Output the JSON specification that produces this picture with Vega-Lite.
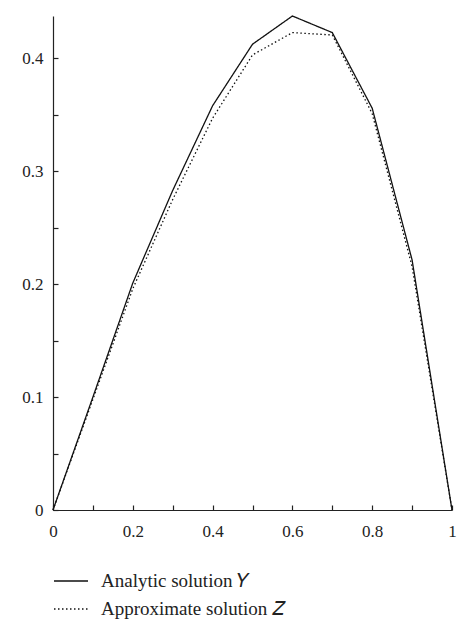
{
  "$schema": "https://vega.github.io/schema/vega-lite/v6.json",
  "autosize": {"type": "none"},
  "width": 399,
  "height": 494,
  "padding": {"left": 53, "top": 16, "right": 22, "bottom": 122},
  "background": "white",
  "config": {
    "view": {"stroke": null},
    "font": "Liberation Serif",
    "axis": {
      "domainColor": "#222",
      "tickColor": "#222",
      "domainWidth": 1.2,
      "tickWidth": 1.2,
      "labelColor": "#222",
      "labelFont": "Liberation Serif",
      "labelFontSize": 17,
      "grid": false,
      "title": null
    }
  },
  "data": {
    "values": [
      {"x": 0.0, "u": 0.0, "s": "Analytic solution 𝑌"},
      {"x": 0.1, "u": 0.1, "s": "Analytic solution 𝑌"},
      {"x": 0.2, "u": 0.201, "s": "Analytic solution 𝑌"},
      {"x": 0.3, "u": 0.283, "s": "Analytic solution 𝑌"},
      {"x": 0.4, "u": 0.358, "s": "Analytic solution 𝑌"},
      {"x": 0.5, "u": 0.4125, "s": "Analytic solution 𝑌"},
      {"x": 0.6, "u": 0.4375, "s": "Analytic solution 𝑌"},
      {"x": 0.7, "u": 0.4228, "s": "Analytic solution 𝑌"},
      {"x": 0.8, "u": 0.3558, "s": "Analytic solution 𝑌"},
      {"x": 0.9, "u": 0.2214, "s": "Analytic solution 𝑌"},
      {"x": 1.0, "u": 0.0, "s": "Analytic solution 𝑌"},
      {"x": 0.0, "u": 0.0, "s": "Approximate solution 𝑍"},
      {"x": 0.1, "u": 0.098, "s": "Approximate solution 𝑍"},
      {"x": 0.2, "u": 0.196, "s": "Approximate solution 𝑍"},
      {"x": 0.3, "u": 0.275, "s": "Approximate solution 𝑍"},
      {"x": 0.4, "u": 0.347, "s": "Approximate solution 𝑍"},
      {"x": 0.5, "u": 0.403, "s": "Approximate solution 𝑍"},
      {"x": 0.6, "u": 0.4228, "s": "Approximate solution 𝑍"},
      {"x": 0.7, "u": 0.4207, "s": "Approximate solution 𝑍"},
      {"x": 0.8, "u": 0.351, "s": "Approximate solution 𝑍"},
      {"x": 0.9, "u": 0.2155, "s": "Approximate solution 𝑍"},
      {"x": 1.0, "u": 0.0, "s": "Approximate solution 𝑍"}
    ]
  },
  "mark": {"type": "line", "color": "#111", "strokeWidth": 1.3},
  "encoding": {
    "x": {
      "field": "x",
      "type": "quantitative",
      "scale": {"domain": [0, 1], "nice": false},
      "axis": {
        "values": [0, 0.1, 0.2, 0.3, 0.4, 0.5, 0.6, 0.7, 0.8, 0.9, 1],
        "tickSize": -5,
        "labelPadding": 18,
        "labelExpr": "round(datum.value * 10) % 2 == 0 ? format(datum.value, '~g') : ''",
        "labelFlush": false,
        "labelOverlap": false
      }
    },
    "y": {
      "field": "u",
      "type": "quantitative",
      "scale": {"domain": [0, 0.4375], "nice": false, "zero": true},
      "axis": {
        "values": [0, 0.05, 0.1, 0.15, 0.2, 0.25, 0.3, 0.35, 0.4],
        "tickSize": -5,
        "labelPadding": 15,
        "labelExpr": "round(datum.value * 20) % 2 == 0 ? format(datum.value, '~g') : ''",
        "labelFlush": false,
        "labelOverlap": false
      }
    },
    "strokeDash": {
      "field": "s",
      "type": "nominal",
      "scale": {
        "domain": ["Analytic solution 𝑌", "Approximate solution 𝑍"],
        "range": [[1, 0], [1.5, 2.5]]
      },
      "legend": {
        "title": null,
        "orient": "bottom",
        "direction": "vertical",
        "offset": 24,
        "symbolType": "stroke",
        "symbolSize": 1156,
        "symbolStrokeColor": "#111",
        "symbolStrokeWidth": 1.3,
        "labelFont": "Liberation Serif",
        "labelFontSize": 19,
        "labelColor": "#222",
        "labelLimit": 400,
        "labelOffset": 12,
        "rowPadding": -11
      }
    }
  }
}
